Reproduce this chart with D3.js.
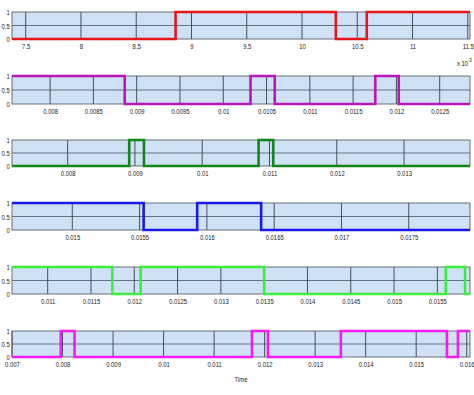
<!DOCTYPE html>
<html><head><meta charset="utf-8">
<script src="https://cdn.jsdelivr.net/npm/d3@7"></script>
<style>
html,body{margin:0;padding:0;background:#fff;}
svg{display:block;}
text{font-family:"Liberation Sans",Arial,sans-serif;font-size:8px;fill:#222;}
</style></head>
<body>
<svg id="c" width="474" height="395"></svg>
<script>
// ---- data ----
// Panel 1 (time in units of 1e-3)
const p1Domain = [7.376, 11.52];
const p1Ticks = [7.5, 8, 8.5, 9, 9.5, 10, 10.5, 11, 11.5];
const p1Times = [7.376, 8.856, 10.306, 10.586, 11.52];
const p1Values = [0, 1, 0, 1, 1];
// Panel 2
const p2Domain = [0.00756, 0.01285];
const p2Ticks = [0.008, 0.0085, 0.009, 0.0095, 0.01, 0.0105, 0.011, 0.0115, 0.012, 0.0125];
const p2Times = [0.00756, 0.008862, 0.010315, 0.010595, 0.011756, 0.012027, 0.01285];
const p2Values = [1, 0, 1, 0, 1, 0, 0];
// Panel 3
const p3Domain = [0.007173, 0.01398];
const p3Ticks = [0.008, 0.009, 0.01, 0.011, 0.012, 0.013];
const p3Times = [0.007173, 0.008915, 0.009134, 0.010838, 0.011056, 0.01398];
const p3Values = [0, 1, 0, 1, 0, 0];
// Panel 4
const p4Domain = [0.014552, 0.017955];
const p4Ticks = [0.015, 0.0155, 0.016, 0.0165, 0.017, 0.0175];
const p4Times = [0.014552, 0.01553, 0.015928, 0.016403, 0.017955];
const p4Values = [1, 0, 1, 0, 0];
// Panel 5
const p5Domain = [0.010588, 0.015877];
const p5Ticks = [0.011, 0.0115, 0.012, 0.0125, 0.013, 0.0135, 0.014, 0.0145, 0.015, 0.0155];
const p5Times = [0.010588, 0.011747, 0.012073, 0.0135, 0.015597, 0.01582, 0.015877];
const p5Values = [1, 0, 1, 0, 1, 0, 0];
// Panel 6
const p6Domain = [0.007, 0.016065];
const p6Ticks = [0.007, 0.008, 0.009, 0.01, 0.011, 0.012, 0.013, 0.014, 0.015, 0.016];
const p6Times = [0.007, 0.007966, 0.008238, 0.011749, 0.012065, 0.013509, 0.015608, 0.015826, 0.016065];
const p6Values = [0, 1, 0, 1, 0, 1, 0, 1, 1];
const yTicks = [0, 0.5, 1];
const xLabel = "Time";
const expLabel = ["x 10", "-3"];

// ---- layout / style ----
const panels = [
  {domain:p1Domain, ticks:p1Ticks, times:p1Times, values:p1Values, top:12, bottom:39, color:"#e8141c"},
  {domain:p2Domain, ticks:p2Ticks, times:p2Times, values:p2Values, top:76, bottom:104, color:"#b816b8"},
  {domain:p3Domain, ticks:p3Ticks, times:p3Times, values:p3Values, top:140, bottom:166, color:"#13861a"},
  {domain:p4Domain, ticks:p4Ticks, times:p4Times, values:p4Values, top:203, bottom:230, color:"#1a1ae6"},
  {domain:p5Domain, ticks:p5Ticks, times:p5Times, values:p5Values, top:267, bottom:294, color:"#3cee3c"},
  {domain:p6Domain, ticks:p6Ticks, times:p6Times, values:p6Values, top:331, bottom:357, color:"#f41cf4"}
];
const left = 12, right = 470;
const SX = 0.74; // horizontal condensing of text
const svg = d3.select("#c");
const fmt = v => String(+v.toFixed(6));

panels.forEach((p, i) => {
  const x = d3.scaleLinear().domain(p.domain).range([left, right]);
  const y = d3.scaleLinear().domain([0, 1]).range([p.bottom, p.top]);
  const g = svg.append("g");
  g.append("rect").attr("x", left).attr("y", p.top).attr("width", right - left)
    .attr("height", p.bottom - p.top).attr("fill", "#cfe1f5");
  // vertical grid
  g.selectAll(".vg").data(p.ticks).enter().append("line")
    .attr("x1", d => x(d)).attr("x2", d => x(d))
    .attr("y1", p.top).attr("y2", p.bottom)
    .attr("stroke", "#262b36").attr("stroke-width", 0.8);
  // horizontal grid
  g.selectAll(".hg").data([0.5]).enter().append("line")
    .attr("x1", left).attr("x2", right).attr("y1", d => y(d)).attr("y2", d => y(d))
    .attr("stroke", "#3a4250").attr("stroke-width", 0.7);
  // border
  g.append("rect").attr("x", left).attr("y", p.top).attr("width", right - left)
    .attr("height", p.bottom - p.top).attr("fill", "none").attr("stroke", "#4a4f58").attr("stroke-width", 0.8);
  // x axis labels
  const xa = d3.axisBottom(x).tickValues(p.ticks).tickSize(0).tickPadding(4)
    .tickFormat(d => fmt(d));
  const ag = g.append("g").attr("transform", `translate(0,${p.bottom})`).call(xa);
  ag.select(".domain").remove();
  ag.selectAll("text").attr("font-size", "8px").attr("fill", "#222")
    .attr("font-family", "'Liberation Sans',Arial,sans-serif")
    .attr("transform", `scale(${SX},1)`);
  // y axis labels
  const ya = d3.axisLeft(y).tickValues(yTicks).tickSize(0).tickPadding(3).tickFormat(d => fmt(d));
  const yg = g.append("g").attr("transform", `translate(${left},0)`).call(ya);
  yg.select(".domain").remove();
  yg.selectAll("text").attr("font-size", "8px").attr("fill", "#222")
    .attr("font-family", "'Liberation Sans',Arial,sans-serif")
    .attr("transform", `scale(${SX},1)`);
  // signal
  const pts = p.times.map((t, k) => [t, p.values[k]]);
  const line = d3.line().x(d => x(d[0])).y(d => y(d[1])).curve(d3.curveStepAfter);
  g.append("path").attr("d", line(pts)).attr("fill", "none")
    .attr("stroke", p.color).attr("stroke-width", 2.6);
  if (i === 0) {
    const t = g.append("text").attr("transform", `translate(457,66) scale(${SX},1)`).attr("font-size", "8px");
    t.append("tspan").text(expLabel[0]);
    t.append("tspan").attr("dy", -4).attr("font-size", "5.5px").text(expLabel[1]);
  }
  if (i === panels.length - 1) {
    g.append("text").attr("transform", `translate(241,382) scale(${SX},1)`).attr("text-anchor", "middle")
      .attr("font-size", "8px").text(xLabel);
  }
});
</script>
</body></html>
